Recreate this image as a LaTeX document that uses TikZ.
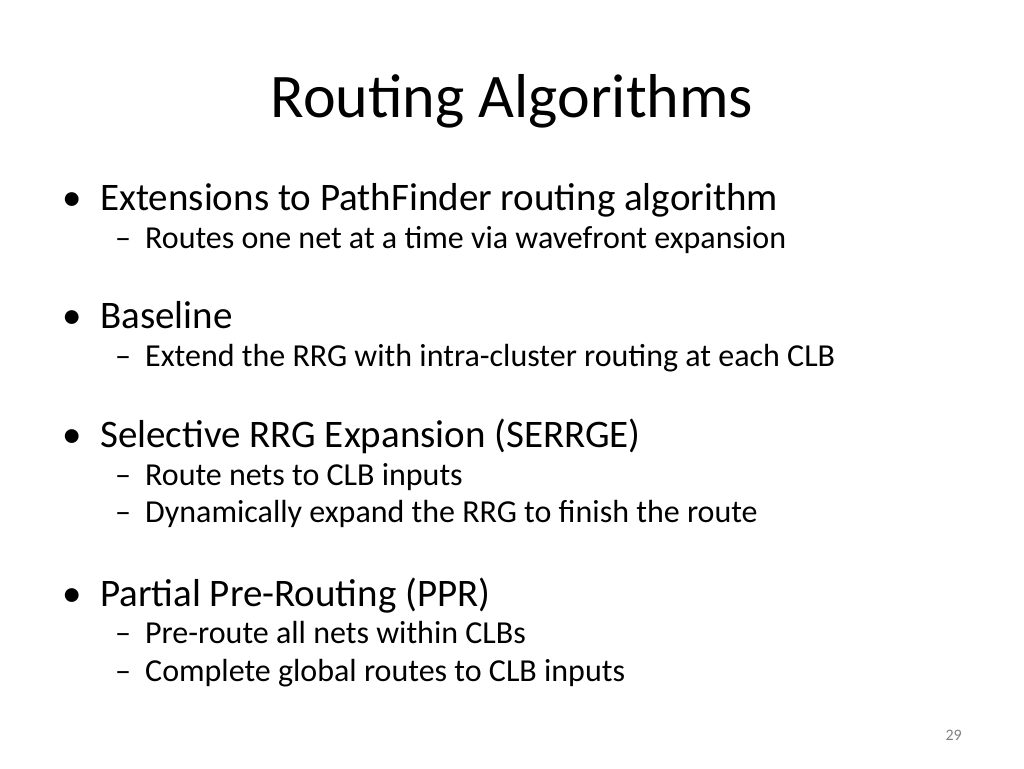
\documentclass[tikz,border=0pt]{standalone}
\usepackage{fontspec}
\setmainfont{Carlito}
\begin{document}
\begin{tikzpicture}[x=1pt,y=-1pt,
 lone/.style={anchor=base west,inner sep=0pt,font=\fontsize{39}{39}\selectfont},
 ltwo/.style={anchor=base west,inner sep=0pt,font=\fontsize{32}{32}\selectfont},
 bul/.style={anchor=base west,inner sep=0pt,font=\fontsize{39}{39}\selectfont},
 dsh/.style={anchor=base west,inner sep=0pt,font=\fontsize{32}{32}\selectfont}]
\useasboundingbox (0,0) rectangle (1024,768);
\node[anchor=base,inner sep=0pt,font=\fontsize{62}{62}\selectfont] (title) at (512,117) {Routing Algorithms};
\node[bul] (b1) at (62,210) {•}; \node[lone] (t1) at (100,210) {Extensions to PathFinder routing algorithm};
\node[dsh] (d1) at (115,248) {–}; \node[ltwo] (s1) at (145,248) {Routes one net at a time via wavefront expansion};
\node[bul] (b2) at (62,328) {•}; \node[lone] (t2) at (100,328) {Baseline};
\node[dsh] (d2) at (115,366) {–}; \node[ltwo] (s2) at (145,366) {Extend the RRG with intra-cluster routing at each CLB};
\node[bul] (b3) at (62,447) {•}; \node[lone] (t3) at (100,447) {Selective RRG Expansion (SERRGE)};
\node[dsh] (d3) at (115,485) {–}; \node[ltwo] (s3) at (145,485) {Route nets to CLB inputs};
\node[dsh] (d4) at (115,522) {–}; \node[ltwo] (s4) at (145,522) {Dynamically expand the RRG to finish the route};
\node[bul] (b4) at (62,606) {•}; \node[lone] (t4) at (100,606) {Partial Pre-Routing (PPR)};
\node[dsh] (d5) at (115,643) {–}; \node[ltwo] (s5) at (145,643) {Pre-route all nets within CLBs};
\node[dsh] (d6) at (115,681) {–}; \node[ltwo] (s6) at (145,681) {Complete global routes to CLB inputs};
\node[anchor=base east,inner sep=0pt,font=\fontsize{16}{16}\selectfont,text=gray] (pg) at (962,740) {29};
\end{tikzpicture}
\end{document}
